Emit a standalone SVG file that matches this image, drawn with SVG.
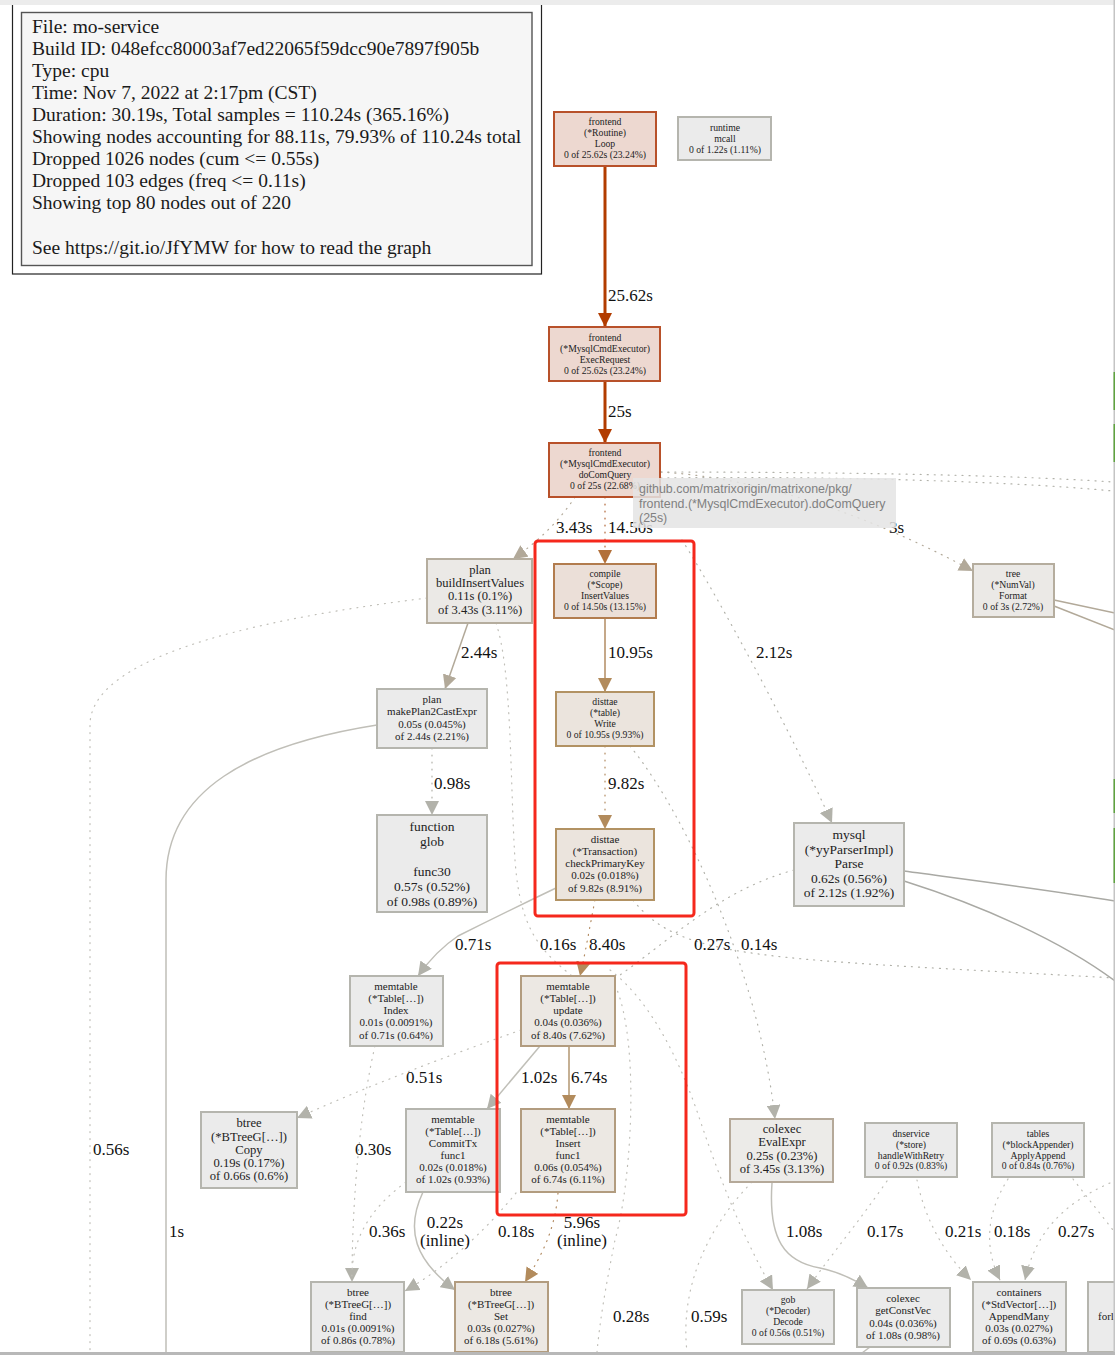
<svg xmlns="http://www.w3.org/2000/svg" width="1115" height="1355" viewBox="0 0 1115 1355">
<style>
text{font-family:"Liberation Serif","Times New Roman",serif;fill:#222;text-anchor:middle}
.lg text{font-size:19.5px;text-anchor:start;fill:#1a1a1a}
.l{font-size:17px;text-anchor:start;fill:#111}
.c{font-size:17px;fill:#111}
.n rect{stroke-width:2}
.s9 text{font-size:9.7px}
.s10 text{font-size:11px}
.s11 text{font-size:12.6px}
.s12 text{font-size:13.5px}
.g rect{fill:#ebebeb;stroke:#b5b5ae}
.p rect{fill:#ebe9e6;stroke:#b5ad9e}
.t rect{fill:#ece8e3;stroke:#b29c7f}
.d rect{fill:#ebe4dd;stroke:#b29263}
.o rect{fill:#ebdfd8;stroke:#b27c4e}
.r rect{fill:#edd8d0;stroke:#b8512a}
#edges path{fill:none}
.e1{stroke:#b23c00;stroke-width:3}
.dot{stroke-dasharray:1 6;stroke-width:1.2;stroke-linecap:round}
.gr{stroke:#b2b2aa}
.lgr{stroke:#c0bfb8}
.br{stroke:#b28b62}
.or{stroke:#b2683a}
.ta{stroke:#b2a999}
.sol{stroke-width:1.5}
.hi{fill:none;stroke:#f5281c;stroke-width:3}
</style>
<defs>
<marker id="aR" viewBox="0 0 10 10" refX="10" refY="5" markerUnits="userSpaceOnUse" markerWidth="14" markerHeight="14" orient="auto"><path d="M0,0L10,5L0,10z" fill="#b23c00"/></marker>
<marker id="aO" viewBox="0 0 10 10" refX="10" refY="5" markerUnits="userSpaceOnUse" markerWidth="14" markerHeight="14" orient="auto"><path d="M0,0L10,5L0,10z" fill="#b2703a"/></marker>
<marker id="aB" viewBox="0 0 10 10" refX="10" refY="5" markerUnits="userSpaceOnUse" markerWidth="14" markerHeight="14" orient="auto"><path d="M0,0L10,5L0,10z" fill="#b28b5c"/></marker>
<marker id="aT" viewBox="0 0 10 10" refX="10" refY="5" markerUnits="userSpaceOnUse" markerWidth="14" markerHeight="14" orient="auto"><path d="M0,0L10,5L0,10z" fill="#b2a999"/></marker>
<marker id="aG" viewBox="0 0 10 10" refX="10" refY="5" markerUnits="userSpaceOnUse" markerWidth="14" markerHeight="14" orient="auto"><path d="M0,0L10,5L0,10z" fill="#b2b2aa"/></marker>
</defs>
<rect width="1115" height="1355" fill="#fff"/>

<g id="edges">
<path class="e1" d="M605,166V327" marker-end="url(#aR)"/>
<path class="e1" d="M605,381V443" marker-end="url(#aR)"/>
<path class="dot or" d="M605,497V564" marker-end="url(#aO)"/>
<path class="dot ta" d="M575,497C560,520 540,540 513,559" marker-end="url(#aT)"/>
<path class="dot ta" d="M661,472C760,478 870,515 973,571" marker-end="url(#aT)"/>
<path class="dot gr" d="M661,472C800,472 1000,474 1113,482"/>
<path class="dot gr" d="M661,478C800,476 1000,480 1113,491"/>
<path class="dot gr" d="M682,540C720,600 790,730 832,823" marker-end="url(#aG)"/>
<path class="sol" stroke="#b28b62" fill="none" d="M605,618V692" marker-end="url(#aB)"/>
<path class="dot br" d="M605,746V829" marker-end="url(#aB)"/>
<path class="dot gr" d="M630,746C690,820 760,980 775,1119" marker-end="url(#aG)"/>
<path class="dot br" d="M595,900C590,925 586,950 580,976" marker-end="url(#aB)"/>
<path class="dot gr" d="M633,900C680,960 760,958 1115,978"/>
<path class="sol lgr" d="M556,888C510,910 480,925 458,936C440,948 428,962 418,976" marker-end="url(#aG)"/>
<path class="sol ta" d="M468,623L445,689" marker-end="url(#aT)"/>
<path class="dot lgr" d="M427,598C290,615 90,650 90,725V1352"/>
<path class="dot lgr" d="M496,623C512,670 510,780 515,860C520,930 540,950 572,976"/>
<path class="sol lgr" d="M377,725C250,745 166,790 166,880V1352"/>
<path class="dot gr" d="M432,748V815" marker-end="url(#aG)"/>
<path class="dot lgr" d="M375,1046C360,1110 352,1200 352,1282" marker-end="url(#aG)"/>
<path class="dot lgr" d="M521,1030C450,1055 370,1085 297,1118" marker-end="url(#aG)"/>
<path class="sol lgr" d="M540,1046L487,1109" marker-end="url(#aG)"/>
<path class="sol" stroke="#b29670" fill="none" d="M569,1046V1109" marker-end="url(#aB)"/>
<path class="dot lgr" d="M406,1182C375,1205 350,1235 352,1282"/>
<path class="sol lgr" d="M423,1192C405,1230 415,1260 455,1290" marker-end="url(#aG)"/>
<path class="dot lgr" d="M516,1193C490,1225 450,1265 405,1291" marker-end="url(#aG)"/>
<path class="dot br" d="M558,1193C555,1230 542,1255 525,1282" marker-end="url(#aB)"/>
<path class="dot lgr" d="M610,970C650,1000 680,1060 700,1120C725,1195 750,1250 773,1290" marker-end="url(#aG)"/>
<path class="dot lgr" d="M615,985C640,1040 632,1180 615,1240C605,1290 600,1320 597,1352"/>
<path class="dot lgr" d="M752,1182C705,1230 680,1290 687,1352"/>
<path class="dot gr" d="M794,870C720,890 670,940 620,975"/>
<path class="sol" fill="none" stroke="#a9a9a4" d="M904,871C970,880 1050,890 1115,901"/>
<path class="sol" fill="none" stroke="#a9a9a4" d="M904,881C980,905 1060,940 1115,981"/>
<path class="sol ta" d="M1054,600L1115,613"/>
<path class="sol ta" d="M1054,606L1115,630"/>
<path class="dot lgr" d="M887,1181C860,1220 835,1250 807,1289" marker-end="url(#aG)"/>
<path class="dot lgr" d="M917,1180C925,1220 945,1255 971,1280" marker-end="url(#aG)"/>
<path class="dot lgr" d="M1008,1179C985,1215 985,1250 1000,1280" marker-end="url(#aG)"/>
<path class="dot lgr" d="M1110,1183C1060,1205 1035,1235 1025,1280" marker-end="url(#aG)"/>
<path class="dot lgr" d="M1073,1179L1113,1230"/>
<path class="sol lgr" d="M772,1183C768,1240 785,1262 820,1268C840,1272 855,1280 868,1288" marker-end="url(#aG)"/>
<path class="sol lgr" d="M870,1347L862,1353"/>
</g>

<g id="legend" class="lg">
<rect x="12.5" y="-3" width="529" height="277" fill="#fff" stroke="#222" stroke-width="1.2"/>
<rect x="21.5" y="12.5" width="510.5" height="253" fill="#f6f6f6" stroke="#555" stroke-width="1.4"/>
<text x="32" y="33">File: mo-service</text>
<text x="32" y="55">Build ID: 048efcc80003af7ed22065f59dcc90e7897f905b</text>
<text x="32" y="77">Type: cpu</text>
<text x="32" y="99">Time: Nov 7, 2022 at 2:17pm (CST)</text>
<text x="32" y="121">Duration: 30.19s, Total samples = 110.24s (365.16%)</text>
<text x="32" y="143">Showing nodes accounting for 88.11s, 79.93% of 110.24s total</text>
<text x="32" y="165">Dropped 1026 nodes (cum &lt;= 0.55s)</text>
<text x="32" y="187">Dropped 103 edges (freq &lt;= 0.11s)</text>
<text x="32" y="209">Showing top 80 nodes out of 220</text>
<text x="32" y="254">See https://git.io/JfYMW for how to read the graph</text>
</g>

<g id="n-loop" class="n r s9"><rect x="554" y="112" width="102" height="54"/><text x="605" y="125">frontend</text><text x="605" y="136">(*Routine)</text><text x="605" y="147">Loop</text><text x="605" y="158">0 of 25.62s (23.24%)</text></g>
<g id="n-mcall" class="n g s9"><rect x="678" y="117" width="93" height="43"/><text x="725" y="131">runtime</text><text x="725" y="142">mcall</text><text x="725" y="153">0 of 1.22s (1.11%)</text></g>
<g id="n-exec" class="n r s9"><rect x="549" y="327" width="111" height="54"/><text x="605" y="341">frontend</text><text x="605" y="352">(*MysqlCmdExecutor)</text><text x="605" y="363">ExecRequest</text><text x="605" y="374">0 of 25.62s (23.24%)</text></g>
<g id="n-docom" class="n r s9"><rect x="549" y="443" width="111" height="54"/><text x="605" y="456">frontend</text><text x="605" y="467">(*MysqlCmdExecutor)</text><text x="605" y="478">doComQuery</text><text x="605" y="489">0 of 25s (22.68%)</text></g>
<g id="n-compile" class="n o s9"><rect x="554" y="564" width="102" height="54"/><text x="605" y="577">compile</text><text x="605" y="588">(*Scope)</text><text x="605" y="599">InsertValues</text><text x="605" y="610">0 of 14.50s (13.15%)</text></g>
<g id="n-write" class="n d s9"><rect x="556" y="692" width="98" height="54"/><text x="605" y="705">disttae</text><text x="605" y="716">(*table)</text><text x="605" y="727">Write</text><text x="605" y="738">0 of 10.95s (9.93%)</text></g>
<g id="n-check" class="n d s10"><rect x="556" y="829" width="98" height="71"/><text x="605" y="843">disttae</text><text x="605" y="855">(*Transaction)</text><text x="605" y="867">checkPrimaryKey</text><text x="605" y="879">0.02s (0.018%)</text><text x="605" y="892">of 9.82s (8.91%)</text></g>
<g id="n-build" class="n p s11"><rect x="427" y="559" width="105" height="64"/><text x="480" y="574">plan</text><text x="480" y="587">buildInsertValues</text><text x="480" y="600">0.11s (0.1%)</text><text x="480" y="614">of 3.43s (3.11%)</text></g>
<g id="n-makeplan" class="n g s10"><rect x="377" y="689" width="110" height="59"/><text x="432" y="703">plan</text><text x="432" y="715">makePlan2CastExpr</text><text x="432" y="728">0.05s (0.045%)</text><text x="432" y="740">of 2.44s (2.21%)</text></g>
<g id="n-glob" class="n g s12"><rect x="377" y="815" width="110" height="97"/><text x="432" y="831">function</text><text x="432" y="846">glob</text><text x="432" y="876">func30</text><text x="432" y="891">0.57s (0.52%)</text><text x="432" y="906">of 0.98s (0.89%)</text></g>
<g id="n-parse" class="n g s12"><rect x="794" y="823" width="110" height="83"/><text x="849" y="839">mysql</text><text x="849" y="854">(*yyParserImpl)</text><text x="849" y="868">Parse</text><text x="849" y="883">0.62s (0.56%)</text><text x="849" y="897">of 2.12s (1.92%)</text></g>
<g id="n-numval" class="n p s9"><rect x="973" y="564" width="81" height="53"/><text x="1013" y="577">tree</text><text x="1013" y="588">(*NumVal)</text><text x="1013" y="599">Format</text><text x="1013" y="610">0 of 3s (2.72%)</text></g>
<g id="n-index" class="n g s10"><rect x="350" y="976" width="93" height="70"/><text x="396" y="990">memtable</text><text x="396" y="1002">(*Table[…])</text><text x="396" y="1014">Index</text><text x="396" y="1026">0.01s (0.0091%)</text><text x="396" y="1039">of 0.71s (0.64%)</text></g>
<g id="n-update" class="n t s10"><rect x="521" y="976" width="94" height="70"/><text x="568" y="990">memtable</text><text x="568" y="1002">(*Table[…])</text><text x="568" y="1014">update</text><text x="568" y="1026">0.04s (0.036%)</text><text x="568" y="1039">of 8.40s (7.62%)</text></g>
<g id="n-committx" class="n g s10"><rect x="406" y="1109" width="94" height="83"/><text x="453" y="1123">memtable</text><text x="453" y="1135">(*Table[…])</text><text x="453" y="1147">CommitTx</text><text x="453" y="1159">func1</text><text x="453" y="1171">0.02s (0.018%)</text><text x="453" y="1183">of 1.02s (0.93%)</text></g>
<g id="n-insert" class="n t s10"><rect x="521" y="1109" width="94" height="83"/><text x="568" y="1123">memtable</text><text x="568" y="1135">(*Table[…])</text><text x="568" y="1147">Insert</text><text x="568" y="1159">func1</text><text x="568" y="1171">0.06s (0.054%)</text><text x="568" y="1183">of 6.74s (6.11%)</text></g>
<g id="n-copy" class="n g s11"><rect x="201" y="1112" width="96" height="76"/><text x="249" y="1127">btree</text><text x="249" y="1141">(*BTreeG[…])</text><text x="249" y="1154">Copy</text><text x="249" y="1167">0.19s (0.17%)</text><text x="249" y="1180">of 0.66s (0.6%)</text></g>
<g id="n-eval" class="n s11"><rect x="730" y="1119" width="103" height="63" fill="#ecebe8" stroke="#b5a999"/><text x="782" y="1133">colexec</text><text x="782" y="1146">EvalExpr</text><text x="782" y="1160">0.25s (0.23%)</text><text x="782" y="1173">of 3.45s (3.13%)</text></g>
<g id="n-dnservice" class="n g s9"><rect x="865" y="1123" width="92" height="54"/><text x="911" y="1137">dnservice</text><text x="911" y="1148">(*store)</text><text x="911" y="1159">handleWithRetry</text><text x="911" y="1169">0 of 0.92s (0.83%)</text></g>
<g id="n-tables" class="n g s9"><rect x="992" y="1123" width="92" height="54"/><text x="1038" y="1137">tables</text><text x="1038" y="1148">(*blockAppender)</text><text x="1038" y="1159">ApplyAppend</text><text x="1038" y="1169">0 of 0.84s (0.76%)</text></g>
<g id="n-find" class="n g s10"><rect x="311" y="1282" width="93" height="70"/><text x="358" y="1296">btree</text><text x="358" y="1308">(*BTreeG[…])</text><text x="358" y="1320">find</text><text x="358" y="1332">0.01s (0.0091%)</text><text x="358" y="1344">of 0.86s (0.78%)</text></g>
<g id="n-set" class="n t s10"><rect x="455" y="1282" width="93" height="70"/><text x="501" y="1296">btree</text><text x="501" y="1308">(*BTreeG[…])</text><text x="501" y="1320">Set</text><text x="501" y="1332">0.03s (0.027%)</text><text x="501" y="1344">of 6.18s (5.61%)</text></g>
<g id="n-gob" class="n g s9"><rect x="742" y="1290" width="92" height="54"/><text x="788" y="1303">gob</text><text x="788" y="1314">(*Decoder)</text><text x="788" y="1325">Decode</text><text x="788" y="1336">0 of 0.56s (0.51%)</text></g>
<g id="n-getconst" class="n g s10"><rect x="857" y="1288" width="93" height="59"/><text x="903" y="1302">colexec</text><text x="903" y="1314">getConstVec</text><text x="903" y="1327">0.04s (0.036%)</text><text x="903" y="1339">of 1.08s (0.98%)</text></g>
<g id="n-containers" class="n g s10"><rect x="973" y="1282" width="93" height="70"/><text x="1019" y="1296">containers</text><text x="1019" y="1308">(*StdVector[…])</text><text x="1019" y="1320">AppendMany</text><text x="1019" y="1332">0.03s (0.027%)</text><text x="1019" y="1344">of 0.69s (0.63%)</text></g>
<g id="n-forl" class="n g s10"><rect x="1088" y="1282" width="40" height="70"/><text x="1098" y="1320" style="text-anchor:start">forl</text></g>

<g id="labels">
<text class="l" x="608" y="301">25.62s</text>
<text class="l" x="608" y="417">25s</text>
<text class="l" x="556" y="533">3.43s</text>
<text class="l" x="608" y="533">14.50s</text>
<text class="l" x="889" y="533">3s</text>
<text class="l" x="608" y="658">10.95s</text>
<text class="l" x="461" y="658">2.44s</text>
<text class="l" x="756" y="658">2.12s</text>
<text class="l" x="608" y="789">9.82s</text>
<text class="l" x="434" y="789">0.98s</text>
<text class="l" x="455" y="950">0.71s</text>
<text class="l" x="540" y="950">0.16s</text>
<text class="l" x="589" y="950">8.40s</text>
<text class="l" x="694" y="950">0.27s</text>
<text class="l" x="741" y="950">0.14s</text>
<text class="l" x="406" y="1083">0.51s</text>
<text class="l" x="521" y="1083">1.02s</text>
<text class="l" x="571" y="1083">6.74s</text>
<text class="l" x="93" y="1155">0.56s</text>
<text class="l" x="355" y="1155">0.30s</text>
<text class="l" x="169" y="1237">1s</text>
<text class="l" x="369" y="1237">0.36s</text>
<text class="c" x="445" y="1228">0.22s</text>
<text class="c" x="445" y="1246">(inline)</text>
<text class="l" x="498" y="1237">0.18s</text>
<text class="c" x="582" y="1228">5.96s</text>
<text class="c" x="582" y="1246">(inline)</text>
<text class="l" x="786" y="1237">1.08s</text>
<text class="l" x="867" y="1237">0.17s</text>
<text class="l" x="945" y="1237">0.21s</text>
<text class="l" x="994" y="1237">0.18s</text>
<text class="l" x="1058" y="1237">0.27s</text>
<text class="l" x="613" y="1322">0.28s</text>
<text class="l" x="691" y="1322">0.59s</text>
</g>

<rect class="hi" x="535" y="541" width="159" height="375" rx="3"/>
<rect class="hi" x="497" y="963" width="189" height="252" rx="3"/>

<g id="tooltip">
<rect x="633" y="478" width="263" height="50" fill="#e4e4e4" fill-opacity="0.85"/>
<text x="639" y="493" font-size="12.4" style="font-family:'Liberation Sans',Arial,sans-serif;text-anchor:start;fill:#808080">github.com/matrixorigin/matrixone/pkg/</text>
<text x="639" y="508" font-size="12.4" style="font-family:'Liberation Sans',Arial,sans-serif;text-anchor:start;fill:#808080">frontend.(*MysqlCmdExecutor).doComQuery</text>
<text x="639" y="522" font-size="12.4" style="font-family:'Liberation Sans',Arial,sans-serif;text-anchor:start;fill:#808080">(25s)</text>
</g>

<g id="frame">
<rect width="1115" height="5" fill="#ececec"/>
<rect x="0" y="1352" width="1115" height="3" fill="#b8b8b8"/>
<rect x="1113.5" y="0" width="1.5" height="1352" fill="#c4c4c4"/>
<rect x="1113.5" y="372" width="1.5" height="38" fill="#5fa33f"/>
<rect x="1113.5" y="424" width="1.5" height="38" fill="#5fa33f"/>
<rect x="1113.5" y="779" width="1.5" height="34" fill="#5fa33f"/>
<rect x="1113.5" y="828" width="1.5" height="55" fill="#5fa33f"/>
</g>
</svg>
